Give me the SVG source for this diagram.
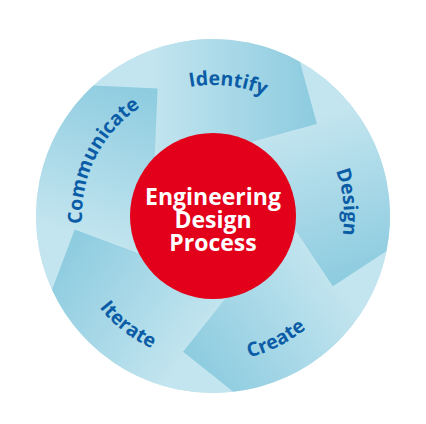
<svg xmlns="http://www.w3.org/2000/svg" xmlns:xlink="http://www.w3.org/1999/xlink" width="426" height="424" viewBox="0 0 426 424">
  <style>
    .step { font-family: "Open Sans", Lato, "Liberation Sans", sans-serif; font-weight: 700; font-size: 19.5px; fill: #0b5ca6; }
    .center { font-family: "Open Sans", Lato, "Liberation Sans", sans-serif; font-weight: 700; font-size: 23px; fill: #ffffff; text-anchor: middle; }
  </style>
  <defs>
    <linearGradient id="band" gradientUnits="userSpaceOnUse" x1="150" y1="100" x2="312" y2="100">
      <stop offset="0" stop-color="#c3e5ef"/>
      <stop offset="1" stop-color="#8ecce0"/>
    </linearGradient>
    <path id="arrow" d="M93.42,85.50 A177,177 0 0 1 300.15,61.94 L317.11,123.90 L243.00,144.60 A77.45,77.45 0 0 0 154.36,165.40 L157.58,88.52 Z" fill="url(#band)"/>
    <path id="arcIdentify" d="M107.69,138.08 A131,131 0 0 1 333.14,163.77" fill="none"/>
    <path id="arcDesign" d="M266.28,96.33 A131,131 0 0 1 290.00,321.98" fill="none"/>
    <path id="arcCreate" d="M133.49,338.45 A146,146 0 0 0 358.80,223.64" fill="none"/>
    <path id="arcIterate" d="M68.42,195.68 A146,146 0 0 0 267.69,351.37" fill="none"/>
    <path id="arcCommunicate" d="M103.76,288.30 A131,131 0 0 1 205.01,85.25" fill="none"/>
  </defs>

  <rect width="426" height="424" fill="#ffffff"/>

  <g id="ring">
    <circle cx="213" cy="216" r="177" fill="#c1e3ee"/>
  </g>

  <g id="identify">
    <use xlink:href="#arrow" href="#arrow"/>
    <text class="step"><textPath xlink:href="#arcIdentify" href="#arcIdentify" startOffset="50%" text-anchor="middle">Identify</textPath></text>
  </g>

  <g id="design">
    <use xlink:href="#arrow" href="#arrow" transform="rotate(72 213 216)"/>
    <text class="step"><textPath xlink:href="#arcDesign" href="#arcDesign" startOffset="50%" text-anchor="middle">Design</textPath></text>
  </g>

  <g id="create">
    <use xlink:href="#arrow" href="#arrow" transform="rotate(144 213 216)"/>
    <text class="step"><textPath xlink:href="#arcCreate" href="#arcCreate" startOffset="50%" text-anchor="middle">Create</textPath></text>
  </g>

  <g id="iterate">
    <use xlink:href="#arrow" href="#arrow" transform="rotate(216 213 216)"/>
    <text class="step"><textPath xlink:href="#arcIterate" href="#arcIterate" startOffset="50%" text-anchor="middle">Iterate</textPath></text>
  </g>

  <g id="communicate">
    <use xlink:href="#arrow" href="#arrow" transform="rotate(288 213 216)"/>
    <text class="step"><textPath xlink:href="#arcCommunicate" href="#arcCommunicate" startOffset="50%" text-anchor="middle">Communicate</textPath></text>
  </g>

  <g id="process">
    <circle cx="213" cy="216" r="83" fill="#e2001a"/>
    <text class="center" x="213" y="205">Engineering</text>
    <text class="center" x="213" y="228">Design</text>
    <text class="center" x="213" y="251">Process</text>
  </g>
</svg>
